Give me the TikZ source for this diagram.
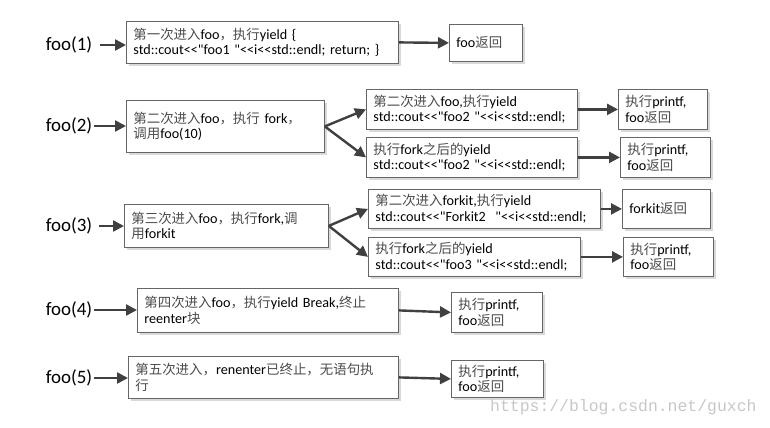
\documentclass[tikz,border=0pt]{standalone}
\usepackage{fontspec}
\setmainfont{Carlito}[Ligatures=TeXOff]
\newfontfamily\cjkfont[Scale=0.95]{Noto Sans CJK SC}
\newfontfamily\wmfont{Liberation Mono}
\newcommand\zhtxt[1]{{\cjkfont\color{black!70}#1}}
\usetikzlibrary{arrows.meta,shadows,calc}
\tikzset{
  box/.style={draw=black!60, line width=0.8bp, fill=white, anchor=north west,
    align=left, inner xsep=7bp, inner ysep=0bp,
    font=\fontsize{14.2}{15.5}\selectfont,
    drop shadow={opacity=1, fill=black!15, shadow xshift=3bp, shadow yshift=-3bp}},
  lbl/.style={inner sep=0bp, font=\fontsize{19}{21}\selectfont},
  conn/.style={draw=black!75, line width=2.4bp, -{Triangle[length=11bp,width=11bp]}},
  wm/.style={inner sep=0bp, font=\wmfont\fontsize{16.5}{18}\selectfont, text=black!22}
}
\begin{document}
\begin{tikzpicture}[x=1bp,y=-1bp]
\useasboundingbox (0,0) rectangle (770,427);
% labels
\node[lbl] (l1) at (69,45) {foo(1)};
\node[lbl] (l2) at (69,126) {foo(2)};
\node[lbl] (l3) at (69,226) {foo(3)};
\node[lbl] (l4) at (69,310) {foo(4)};
\node[lbl] (l5) at (69,378) {foo(5)};
% boxes
\node[box, text width=258bp, minimum height=42bp] (b1) at (126,21)
  {\zhtxt{第一次进入}foo\zhtxt{，执行}yield \{\\std::cout<<"foo1 "<<i<<std::endl; return; \}};
\node[box, text width=59bp, minimum height=37bp] (r1) at (449,24) {foo\zhtxt{返回}};
\node[box, text width=184bp, minimum height=52bp] (b2) at (126,100)
  {\zhtxt{第二次进入}foo\zhtxt{，执行} fork\zhtxt{，}\\\zhtxt{调用}foo(10)};
\node[box, text width=197bp, minimum height=40bp] (b2a) at (366,89)
  {\zhtxt{第二次进入}foo,\zhtxt{执行}yield\\std::cout<<"foo2 "<<i<<std::endl;};
\node[box, text width=197bp, minimum height=40bp] (b2b) at (366,137)
  {\zhtxt{执行}fork\zhtxt{之后的}yield\\std::cout<<"foo2 "<<i<<std::endl;};
\node[box, text width=75bp, minimum height=40bp] (r2a) at (618,89)
  {\zhtxt{执行}printf,\\foo\zhtxt{返回}};
\node[box, text width=76bp, minimum height=40bp] (r2b) at (620,137)
  {\zhtxt{执行}printf,\\foo\zhtxt{返回}};
\node[box, text width=190bp, minimum height=43bp] (b3) at (124,204)
  {\zhtxt{第三次进入}foo\zhtxt{，执行}fork,\zhtxt{调}\\\zhtxt{用}forkit};
\node[box, text width=218bp, minimum height=39bp] (b3a) at (368,189)
  {\zhtxt{第二次进入}forkit,\zhtxt{执行}yield\\std::cout<<"Forkit2\ \ "<<i<<std::endl;};
\node[box, text width=198bp, minimum height=39bp] (b3b) at (368,237)
  {\zhtxt{执行}fork\zhtxt{之后的}yield\\std::cout<<"foo3 "<<i<<std::endl;};
\node[box, text width=74bp, minimum height=39bp] (r3a) at (622,189) {forkit\zhtxt{返回}};
\node[box, text width=76bp, minimum height=39bp] (r3b) at (623,237)
  {\zhtxt{执行}printf,\\foo\zhtxt{返回}};
\node[box, text width=247bp, minimum height=44bp] (b4) at (137,288)
  {\zhtxt{第四次进入}foo\zhtxt{，执行}yield Break,\zhtxt{终止}\\reenter\zhtxt{块}};
\node[box, text width=77bp, minimum height=40bp] (r4) at (451,292)
  {\zhtxt{执行}printf,\\foo\zhtxt{返回}};
\node[box, text width=256bp, minimum height=42bp] (b5) at (128,356)
  {\zhtxt{第五次进入，}renenter\zhtxt{已终止，无语句执}\\\zhtxt{行}};
\node[box, text width=78bp, minimum height=37bp] (r5) at (451,360)
  {\zhtxt{执行}printf,\\foo\zhtxt{返回}};
% watermark
\node[wm, anchor=west] (wm) at (490,407) {https://blog.csdn.net/guxch};
% connectors
\draw[conn, shorten <=8bp] (l1.east) -- (l1.east -| b1.west);
\draw[conn, shorten <=2bp] (l2.east) -- (l2.east -| b2.west);
\draw[conn, shorten <=7bp] (l3.east) -- (l3.east -| b3.west);
\draw[conn, shorten <=2bp] (l4.east) -- (l4.east -| b4.west);
\draw[conn, shorten <=2bp] (l5.east) -- (l5.east -| b5.west);
\draw[conn] (b1.east) -- (r1.west);
\draw[conn] (b2.east) -- (b2a.west);
\draw[conn] (b2.east) -- (b2b.west);
\draw[conn] (b2a.east) -- (r2a.west);
\draw[conn] (b2b.east) -- (r2b.west);
\draw[conn] (b3.east) -- (b3a.west);
\draw[conn] (b3.east) -- (b3b.west);
\draw[conn] (b3a.east) -- (r3a.west);
\draw[conn] (b3b.east) -- (r3b.west);
\draw[conn] (b4.east) -- (r4.west);
\draw[conn] (b5.east) -- (r5.west);
\end{tikzpicture}
\end{document}
